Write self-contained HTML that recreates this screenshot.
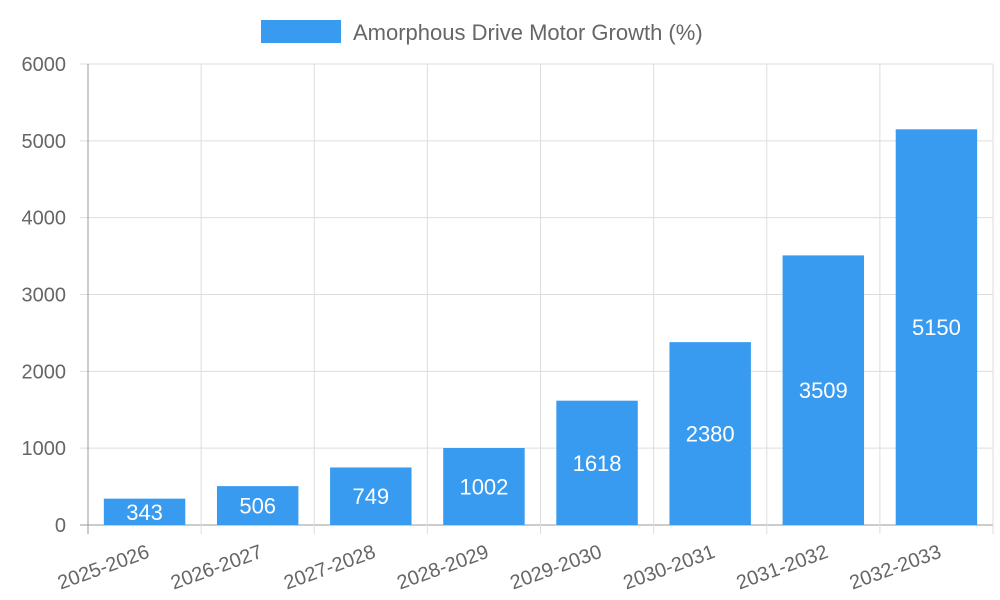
<!DOCTYPE html>
<html><head><meta charset="utf-8"><style>
body{margin:0;background:#fff;}
svg{display:block;font-family:"Liberation Sans",sans-serif;}
</style></head><body>
<svg id="chart" width="1000" height="600">
<rect x="261" y="20" width="80" height="23" fill="#389bef"></rect>
<text x="353" y="40" font-size="22" fill="#666">Amorphous Drive Motor Growth (%)</text>
<g id="grid"></g><g id="bars"></g><g id="labels"></g>
</svg>
<script>
const categories=["2025-2026","2026-2027","2027-2028","2028-2029","2029-2030","2030-2031","2031-2032","2032-2033"];
const values=[343,506,749,1002,1618,2380,3509,5150];
const yTicks=[0,1000,2000,3000,4000,5000,6000];
const NS="http://www.w3.org/2000/svg";
const L=88,R=993,T=64,B=525,yMax=6000;
const cw=(R-L)/categories.length;
const y=v=>B-(v/yMax)*(B-T);
const x=i=>L+i*cw;
function mk(tag,attrs,parent,txt){const e=document.createElementNS(NS,tag);for(const k in attrs)e.setAttribute(k,attrs[k]);if(txt!==undefined)e.textContent=txt;document.getElementById(parent).appendChild(e);return e;}
yTicks.forEach(t=>{
 const g=mk('line',{x1:L-8,x2:R,y1:y(t),y2:y(t),stroke:t===0?'#999':'#ddd','stroke-width':1},'grid');
 
 
 const lb=mk('text',{x:66,y:y(t)+7,'text-anchor':'end','font-size':20,fill:'#666'},'labels',t);
 
 
});
for(let i=0;i<=categories.length;i++){
 const g=mk('line',{x1:x(i),x2:x(i),y1:T,y2:B+9,stroke:i===0?'#999':'#ddd','stroke-width':1},'grid');
 
 
}
categories.forEach((c,i)=>{
 const bw=cw*0.72,bx=x(i)+(cw-bw)/2;
 const r=mk('rect',{x:bx,y:y(values[i]),width:bw,height:B-y(values[i]),fill:'#389bef'},'bars');
 
 
 const v=mk('text',{x:bx+bw/2,y:(y(values[i])+B)/2+8,'text-anchor':'middle','font-size':22,fill:'#fff'},'labels',values[i]);
 
 
 const tx=x(i+0.5)+6,ty=B+32;
 const xl=mk('text',{x:tx,y:ty,'text-anchor':'end','font-size':20,fill:'#666',transform:`rotate(-20 ${tx} ${ty})`},'labels',c);
 
 
});
</script>
</body></html>
